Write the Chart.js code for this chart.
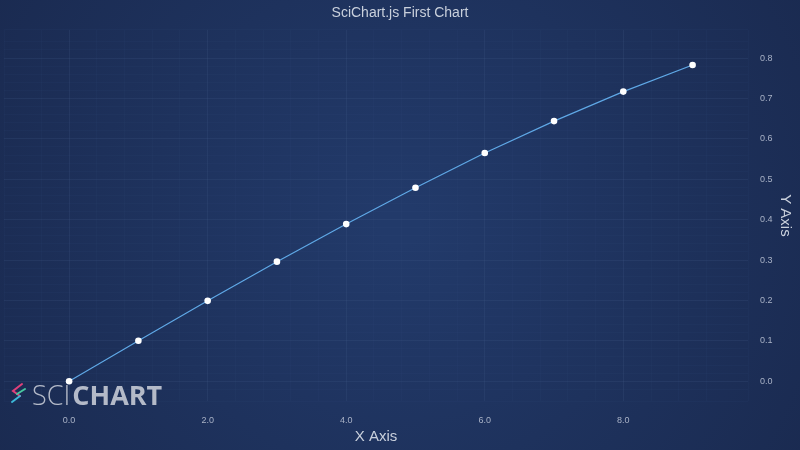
<!DOCTYPE html>
<html><head><meta charset="utf-8">
<script src="https://cdn.jsdelivr.net/npm/chart.js@4/dist/chart.umd.min.js"></script>
<style>html,body{margin:0;padding:0;background:#1c2c55;}#wrap{width:800px;height:450px;position:relative;}</style>
</head><body><div id="wrap"><canvas id="c" width="800" height="450"></canvas></div>
<script>
const xValues = [0, 1, 2, 3, 4, 5, 6, 7, 8, 9];
const yValues = [0.0, 0.1, 0.199, 0.296, 0.389, 0.479, 0.565, 0.644, 0.717, 0.783];
const chartTitle = 'SciChart.js First Chart';
const xAxisTitle = 'X Axis';
const yAxisTitle = 'Y Axis';

const near = (v, s) => Math.abs(v / s - Math.round(v / s)) < 1e-6;

const bgPlugin = {
  id: 'bg',
  beforeDraw(chart) {
    const ctx = chart.ctx, w = chart.width, h = chart.height;
    const g = ctx.createRadialGradient(w * 0.5, h * 0.5, 20, w * 0.5, h * 0.5, w * 0.6);
    g.addColorStop(0, '#223a6a');
    g.addColorStop(1, '#1a2a50');
    ctx.save();
    ctx.fillStyle = g;
    ctx.fillRect(0, 0, w, h);
    ctx.restore();
  },
  afterDraw(chart) {
    const ctx = chart.ctx;
    ctx.save();
    // logo icon
    ctx.lineWidth = 2;
    ctx.lineCap = 'round';
    ctx.strokeStyle = '#e0407a';
    ctx.beginPath(); ctx.moveTo(22, 384); ctx.lineTo(13, 391); ctx.lineTo(20, 396); ctx.stroke();
    ctx.strokeStyle = '#3cb8d8';
    ctx.beginPath(); ctx.moveTo(20, 396); ctx.lineTo(12, 402); ctx.stroke();
    ctx.strokeStyle = '#48c8a0';
    ctx.beginPath(); ctx.moveTo(25, 389); ctx.lineTo(17, 394); ctx.stroke();
    // logo text
    ctx.fillStyle = '#b4bac8';
    ctx.textBaseline = 'alphabetic';
    ctx.font = '300 27px "Open Sans", Lato, sans-serif';
    ctx.fillText('SCI', 32, 405);
    const wSci = ctx.measureText('SCI').width;
    ctx.font = 'bold 27px "Open Sans", Lato, sans-serif';
    ctx.fillText('CHART', 32 + wSci + 2, 405);
    ctx.restore();
  }
};

new Chart(document.getElementById('c'), {
  type: 'line',
  data: {
    datasets: [{
      data: xValues.map((x, i) => ({ x: x, y: yValues[i] })),
      borderColor: '#5fa8e6',
      borderWidth: 1.2,
      pointBackgroundColor: '#ffffff',
      pointBorderColor: '#ffffff',
      pointRadius: 3.3,
      pointBorderWidth: 0,
      tension: 0
    }]
  },
  plugins: [bgPlugin],
  options: {
    responsive: false,
    animation: false,
    layout: { padding: { left: 0, right: 0, top: 0, bottom: 0 } },
    plugins: {
      legend: { display: false },
      tooltip: { enabled: false },
      title: {
        display: true,
        text: chartTitle,
        color: '#c9d0dc',
        font: { family: 'Liberation Sans, Arial, sans-serif', size: 14, weight: 'normal' },
        padding: { top: 5, bottom: 8 }
      }
    },
    scales: {
      x: {
        type: 'linear',
        min: -0.94,
        max: 9.8,
        afterFit(s) { s.height = 49; s.paddingLeft = 0; s.paddingRight = 0; },
        border: { display: false },
        grid: {
          color: (c) => near(c.tick.value, 2) ? 'rgba(70,95,140,0.2)' : 'rgba(70,95,140,0.08)',
          drawTicks: false
        },
        ticks: {
          stepSize: 0.4,
          autoSkip: false,
          maxRotation: 0,
          padding: 14,
          color: '#a9b2c6',
          font: { family: 'Liberation Sans, Arial, sans-serif', size: 9 },
          callback: (v) => (near(v, 2) && v >= 0) ? v.toFixed(1) : ''
        },
        title: {
          display: true,
          text: xAxisTitle,
          color: '#c9d0dc',
          font: { family: 'Liberation Sans, Arial, sans-serif', size: 15 },
          padding: { top: 0, bottom: 4 }
        }
      },
      y: {
        type: 'linear',
        position: 'right',
        min: -0.049,
        max: 0.87,
        afterFit(s) { s.width = 52; },
        border: { display: false },
        grid: {
          color: (c) => near(c.tick.value, 0.1) ? 'rgba(70,95,140,0.2)' : 'rgba(70,95,140,0.08)',
          drawTicks: false
        },
        ticks: {
          stepSize: 0.02,
          autoSkip: false,
          padding: 12,
          color: '#a9b2c6',
          font: { family: 'Liberation Sans, Arial, sans-serif', size: 9 },
          callback: (v) => (near(v, 0.1) && v > -0.01 && v < 0.85) ? (Math.abs(v) < 1e-9 ? '0.0' : v.toFixed(1)) : ''
        },
        title: {
          display: true,
          text: yAxisTitle,
          color: '#c9d0dc',
          font: { family: 'Liberation Sans, Arial, sans-serif', size: 15 },
          padding: { top: 6, bottom: 2 }
        }
      }
    }
  }
});
</script>
</body></html>
